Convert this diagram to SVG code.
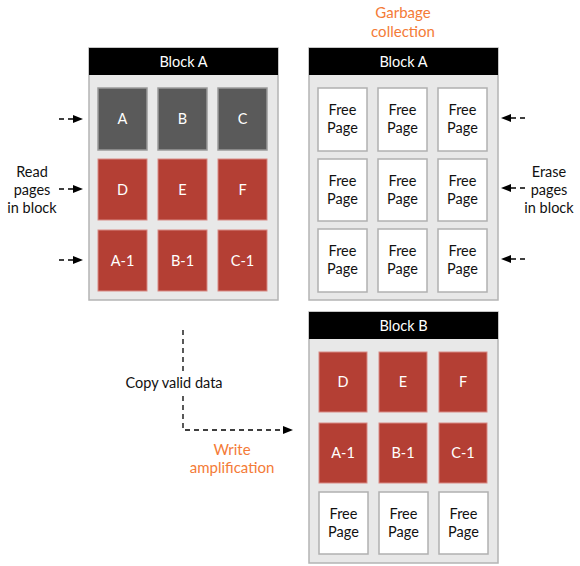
<svg xmlns="http://www.w3.org/2000/svg" width="580" height="566" viewBox="0 0 580 566">
<style>
text{font-family:Lato,"Open Sans","Liberation Sans",sans-serif;font-size:14.5px;text-anchor:middle}
.blk{fill:#e8e8e8;stroke:#b4b4b4;stroke-width:1.5}
.hdr{fill:#000}
.ht{fill:#fff}
.gp{fill:#5a5a5a;stroke:#9a9a9a;stroke-width:1.5}
.rp{fill:#b43f34;stroke:#d88a84;stroke-width:1}
.fp{fill:#fff;stroke:#b0b0b0;stroke-width:1.5}
.wt{fill:#fff}
.bt{fill:#111}
.ot{fill:#f47b37;font-size:15px}
.dl{fill:none;stroke:#000;stroke-width:1.3;stroke-dasharray:5,4}
</style>
<defs>
<marker id="ah" markerUnits="userSpaceOnUse" markerWidth="10" markerHeight="8" refX="0" refY="4" orient="auto"><path d="M0,0 L10,4 L0,8 z" fill="#000"/></marker>
</defs>

<g id="blockA1">
<rect class="blk" x="89" y="48" width="189" height="252"/>
<rect class="hdr" x="89" y="48" width="189" height="27"/>
<text class="ht" x="183.5" y="66.5">Block A</text>
<rect class="gp" x="98" y="88" width="49" height="62"/><text class="wt" x="122.5" y="124">A</text>
<rect class="gp" x="158" y="88" width="49" height="62"/><text class="wt" x="182.5" y="124">B</text>
<rect class="gp" x="218" y="88" width="49" height="62"/><text class="wt" x="242.5" y="124">C</text>
<rect class="rp" x="98" y="159" width="49" height="61"/><text class="wt" x="122.5" y="194.5">D</text>
<rect class="rp" x="158" y="159" width="49" height="61"/><text class="wt" x="182.5" y="194.5">E</text>
<rect class="rp" x="218" y="159" width="49" height="61"/><text class="wt" x="242.5" y="194.5">F</text>
<rect class="rp" x="98" y="230" width="49" height="61"/><text class="wt" x="122.5" y="265.5">A-1</text>
<rect class="rp" x="158" y="230" width="49" height="61"/><text class="wt" x="182.5" y="265.5">B-1</text>
<rect class="rp" x="218" y="230" width="49" height="61"/><text class="wt" x="242.5" y="265.5">C-1</text>
</g>

<g id="blockA2">
<rect class="blk" x="309" y="48" width="189" height="252"/>
<rect class="hdr" x="309" y="48" width="189" height="27"/>
<text class="ht" x="403.5" y="66.5">Block A</text>
<rect class="fp" x="318" y="88" width="49" height="63"/><text class="bt" x="342.5" y="115">Free</text><text class="bt" x="342.5" y="133">Page</text>
<rect class="fp" x="378" y="88" width="49" height="63"/><text class="bt" x="402.5" y="115">Free</text><text class="bt" x="402.5" y="133">Page</text>
<rect class="fp" x="438" y="88" width="49" height="63"/><text class="bt" x="462.5" y="115">Free</text><text class="bt" x="462.5" y="133">Page</text>
<rect class="fp" x="318" y="159" width="49" height="62"/><text class="bt" x="342.5" y="186">Free</text><text class="bt" x="342.5" y="204">Page</text>
<rect class="fp" x="378" y="159" width="49" height="62"/><text class="bt" x="402.5" y="186">Free</text><text class="bt" x="402.5" y="204">Page</text>
<rect class="fp" x="438" y="159" width="49" height="62"/><text class="bt" x="462.5" y="186">Free</text><text class="bt" x="462.5" y="204">Page</text>
<rect class="fp" x="318" y="229" width="49" height="63"/><text class="bt" x="342.5" y="256">Free</text><text class="bt" x="342.5" y="274">Page</text>
<rect class="fp" x="378" y="229" width="49" height="63"/><text class="bt" x="402.5" y="256">Free</text><text class="bt" x="402.5" y="274">Page</text>
<rect class="fp" x="438" y="229" width="49" height="63"/><text class="bt" x="462.5" y="256">Free</text><text class="bt" x="462.5" y="274">Page</text>
</g>

<g id="blockB">
<rect class="blk" x="309" y="312" width="189" height="251"/>
<rect class="hdr" x="309" y="312" width="189" height="27"/>
<text class="ht" x="403.5" y="330.5">Block B</text>
<rect class="rp" x="319" y="352" width="48" height="60"/><text class="wt" x="343" y="387">D</text>
<rect class="rp" x="379" y="352" width="48" height="60"/><text class="wt" x="403" y="387">E</text>
<rect class="rp" x="439" y="352" width="48" height="60"/><text class="wt" x="463" y="387">F</text>
<rect class="rp" x="319" y="423" width="48" height="60"/><text class="wt" x="343" y="458">A-1</text>
<rect class="rp" x="379" y="423" width="48" height="60"/><text class="wt" x="403" y="458">B-1</text>
<rect class="rp" x="439" y="423" width="48" height="60"/><text class="wt" x="463" y="458">C-1</text>
<rect class="fp" x="319" y="492" width="49" height="62"/><text class="bt" x="343.5" y="519">Free</text><text class="bt" x="343.5" y="537">Page</text>
<rect class="fp" x="379" y="492" width="49" height="62"/><text class="bt" x="403.5" y="519">Free</text><text class="bt" x="403.5" y="537">Page</text>
<rect class="fp" x="439" y="492" width="49" height="62"/><text class="bt" x="463.5" y="519">Free</text><text class="bt" x="463.5" y="537">Page</text>
</g>

<g id="labels">
<text class="bt" x="32" y="177">Read</text>
<text class="bt" x="32" y="195">pages</text>
<text class="bt" x="32" y="213">in block</text>
<text class="bt" x="549" y="177">Erase</text>
<text class="bt" x="549" y="195">pages</text>
<text class="bt" x="549" y="213">in block</text>
<text class="ot" x="403" y="18">Garbage</text>
<text class="ot" x="403" y="37">collection</text>
<text class="bt" x="174" y="388">Copy valid data</text>
<text class="ot" x="232" y="455">Write</text>
<text class="ot" x="232" y="473">amplification</text>
</g>

<g id="connectors">
<path class="dl" d="M59,119 H73" marker-end="url(#ah)"/>
<path class="dl" d="M59,189 H73" marker-end="url(#ah)"/>
<path class="dl" d="M59,260 H73" marker-end="url(#ah)"/>
<path class="dl" d="M525,118 H511" marker-end="url(#ah)"/>
<path class="dl" d="M525,188 H511" marker-end="url(#ah)"/>
<path class="dl" d="M525,259 H511" marker-end="url(#ah)"/>
<path class="dl" d="M183,330 V372"/>
<path class="dl" d="M183,396 V430 H283" marker-end="url(#ah)"/>
</g>
</svg>
